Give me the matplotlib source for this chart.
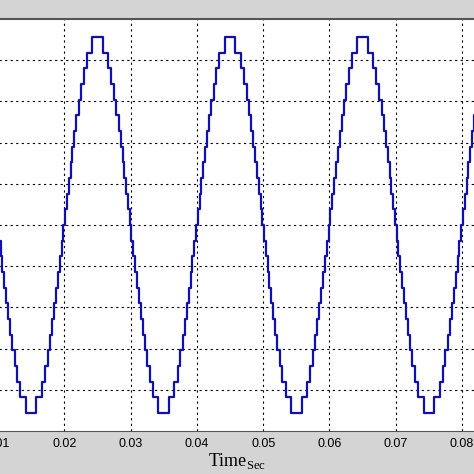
import numpy as np
import matplotlib.pyplot as plt

# switching instants (ms from zero crossing) for each level step, quarter cycle
switch_ms = [0.13, 0.40, 0.67, 0.94, 1.22, 1.52, 1.82, 2.15, 2.51, 2.91, 3.39, 4.2]
step_height = 0.38
period = 0.02
t_start = 0.0
n_cycles = 5
xticks = [0.01, 0.02, 0.03, 0.04, 0.05, 0.06, 0.07, 0.08]

# build one period of the staircase from the quarter-wave switching angles
sw = np.array(switch_ms) / 1000.0
q = period / 4
edges = np.concatenate([sw, 2 * q - sw[::-1]])
lev = np.concatenate([np.arange(1, len(sw) + 1), np.arange(len(sw) - 1, -1, -1)])
t_pos = np.concatenate([[0.0], edges])
v_pos = np.concatenate([[0], lev])
t_per = np.concatenate([t_pos, t_pos[1:] + period / 2])
v_per = np.concatenate([v_pos, -v_pos[1:]])

t, v = [], []
for c in range(n_cycles):
    t.extend(t_start + c * period + t_per)
    v.extend(v_per * step_height)

fig = plt.figure(figsize=(4.74, 4.74), dpi=100, facecolor='#d4d4d4')
ax = fig.add_axes([-2 / 474, 43 / 474, 478 / 474, 412 / 474])
ax.step(t, v, where='post', color='#1010b0', lw=1.6)
ax.set_xlim(0.0100, 0.0821)
ax.set_ylim(-5, 5)
ax.set_xticks(xticks)
ax.set_xticklabels([f'{x:.2f}' for x in xticks], fontsize=9, family='Liberation Sans')
ax.set_yticks(np.arange(-4, 5))
ax.set_yticklabels([])
ax.tick_params(length=0, pad=5)
ax.grid(True, color='black', ls=(0, (2, 3)), lw=0.8)
for s in ['left', 'right', 'bottom']:
    ax.spines[s].set_color('#555555')
ax.spines['top'].set_color('#555555')
ax.spines['top'].set_linewidth(1.5)
ax.set_xlabel('Time$_{\\mathregular{Sec}}$', family='Liberation Serif', fontsize=13, labelpad=1)
fig.savefig('out.png', dpi=100, facecolor=fig.get_facecolor())
